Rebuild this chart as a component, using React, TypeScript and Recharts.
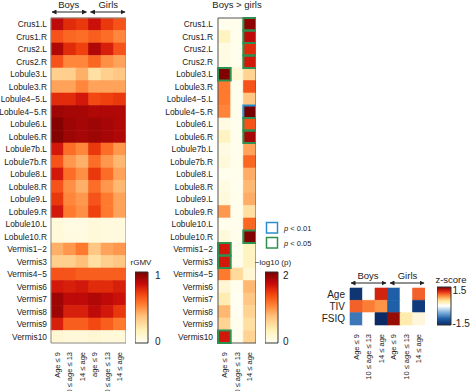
import React from "react";
import { BarChart, Bar, XAxis, YAxis, Cell, ReferenceArea } from "recharts";

const FONT = "'Liberation Sans', Arial, Helvetica, sans-serif";

const REGIONS = [
  "Crus1.L", "Crus1.R", "Crus2.L", "Crus2.R", "Lobule3.L", "Lobule3.R",
  "Lobule4−5.L", "Lobule4−5.R", "Lobule6.L", "Lobule6.R", "Lobule7b.L", "Lobule7b.R",
  "Lobule8.L", "Lobule8.R", "Lobule9.L", "Lobule9.R", "Lobule10.L", "Lobule10.R",
  "Vermis1−2", "Vermis3", "Vermis4−5", "Vermis6", "Vermis7", "Vermis8", "Vermis9", "Vermis10",
];

const GROUP_COLS = ["Age ≤ 9", "10 ≤ age ≤ 13", "14 ≤ age", "age ≤ 9", "10 ≤ age ≤ 13", "14 ≤ age"];
const DIFF_COLS = ["Age ≤ 9", "10 ≤ age ≤ 13", "14 ≤ age"];
const Z_COLS = ["Age ≤ 9", "10 ≤ age ≤ 13", "14 ≤ age", "Age ≤ 9", "10 ≤ age ≤ 13", "14 ≤ age"];
const Z_ROWS = ["Age", "TIV", "FSIQ"];

// rGMV, boys (3 age groups) then girls (3 age groups)
const RGMV = [
  [0.85, 0.75, 0.72, 0.82, 0.72, 0.65],
  [0.65, 0.6, 0.58, 0.62, 0.58, 0.52],
  [0.88, 0.75, 0.7, 0.88, 0.78, 0.65],
  [0.65, 0.52, 0.52, 0.6, 0.5, 0.45],
  [0.32, 0.32, 0.42, 0.25, 0.32, 0.35],
  [0.45, 0.45, 0.52, 0.45, 0.45, 0.45],
  [0.75, 0.75, 0.8, 0.68, 0.7, 0.72],
  [0.92, 0.9, 0.9, 0.88, 0.88, 0.88],
  [0.97, 0.92, 0.9, 0.92, 0.9, 0.88],
  [0.97, 0.92, 0.9, 0.92, 0.9, 0.88],
  [0.8, 0.58, 0.52, 0.72, 0.58, 0.48],
  [0.65, 0.48, 0.42, 0.58, 0.48, 0.4],
  [0.8, 0.58, 0.5, 0.72, 0.58, 0.45],
  [0.65, 0.5, 0.42, 0.58, 0.48, 0.4],
  [0.72, 0.52, 0.48, 0.65, 0.55, 0.45],
  [0.8, 0.55, 0.5, 0.7, 0.55, 0.45],
  [0.08, 0.05, 0.05, 0.08, 0.07, 0.07],
  [0.08, 0.06, 0.06, 0.08, 0.07, 0.07],
  [0.42, 0.48, 0.55, 0.35, 0.45, 0.48],
  [0.32, 0.32, 0.38, 0.25, 0.32, 0.35],
  [0.65, 0.65, 0.62, 0.62, 0.62, 0.62],
  [0.8, 0.78, 0.8, 0.75, 0.75, 0.78],
  [0.92, 0.85, 0.85, 0.88, 0.85, 0.82],
  [0.92, 0.78, 0.78, 0.85, 0.8, 0.72],
  [0.78, 0.62, 0.62, 0.68, 0.62, 0.55],
  [0.1, 0.08, 0.08, 0.1, 0.08, 0.08],
];

// -log10(p), boys > girls
const LOGP = [
  [0.05, 0.05, 1.9], [0.3, 0.05, 1.7], [0.1, 0.05, 1.5], [0.1, 0.05, 1.6],
  [1.95, 0.2, 0.6], [1.1, 0.05, 1.3], [1.1, 0.05, 0.7], [1.05, 0.05, 2.0],
  [0.1, 0.05, 1.3], [0.3, 0.05, 1.8], [0.1, 0.05, 0.9], [0.15, 0.05, 1.2],
  [0.05, 0.05, 0.85], [0.1, 0.05, 0.8], [0.15, 0.05, 0.85], [0.95, 0.05, 0.5],
  [0.05, 0.05, 1.2], [0.15, 0.05, 1.95], [1.6, 0.05, 0.3], [1.6, 0.05, 0.3],
  [1.1, 0.55, 0.2], [0.2, 0.05, 0.8], [0.4, 0.02, 0.7], [0.8, 0.02, 0.6],
  [0.6, 0.05, 0.5], [1.6, 0.05, 0.6],
];

// [row, column, level]
const SIG: [number, number, "p01" | "p05"][] = [
  [0, 2, "p05"], [1, 2, "p05"], [2, 2, "p05"], [3, 2, "p05"], [4, 0, "p05"],
  [7, 2, "p01"], [8, 2, "p05"], [9, 2, "p05"], [17, 2, "p05"],
  [18, 0, "p05"], [19, 0, "p05"], [25, 0, "p05"],
];

const ZSCORE = [
  [-1.4, 0, 1.2, -1.0, 0, 0.95],
  [0.95, 0.85, 0.75, -1.0, 0, -1.35],
  [-0.85, 0, -1.5, 1.4, 0.35, 0.15],
];

const HEAT: [number, string][] = [
  [0, "#fffff4"], [0.18, "#fff1b8"], [0.38, "#ffc07a"], [0.55, "#ff7a2e"],
  [0.7, "#f0400e"], [0.83, "#c80c0a"], [1, "#760000"],
];
const DIVERGE: [number, string][] = [
  [-1.5, "#0b2a66"], [-1.0, "#1f5fa8"], [-0.5, "#80b2dc"], [0, "#ffffff"],
  [0.4, "#ffe9a0"], [0.8, "#ff8a3a"], [1.15, "#e02a12"], [1.5, "#7a0000"],
];
const SIG_COLOR = { p01: "#2a8fd0", p05: "#2e9050" };

if (typeof document !== "undefined") document.body.style.margin = "0";

function hex(c: string) {
  return [1, 3, 5].map((i) => parseInt(c.slice(i, i + 2), 16));
}
function colorAt(stops: [number, string][], v: number) {
  if (v <= stops[0][0]) return stops[0][1];
  for (let i = 1; i < stops.length; i++) {
    if (v <= stops[i][0]) {
      const [a, ca] = stops[i - 1];
      const [b, cb] = stops[i];
      const t = (v - a) / (b - a);
      const x = hex(ca), y = hex(cb);
      return `rgb(${x.map((q, k) => Math.round(q + (y[k] - q) * t)).join(",")})`;
    }
  }
  return stops[stops.length - 1][1];
}

function RotatedTick(props: any) {
  const { x, y, index, labels, fontSize } = props;
  const yy = y + 1;
  return (
    <text x={x} y={yy} transform={`rotate(-90 ${x} ${yy})`} textAnchor="end" dominantBaseline="central"
      fontSize={fontSize} fill="#222" fontFamily={FONT}>
      {labels[index]}
    </text>
  );
}

function Heatmap(props: any) {
  const { rows, cols, values, colorOf, width, height, marginTop, yWidth, xHeight, rowFont, colFont, border, marks, labelGap = 3 } = props;
  const data = cols.map((_: string, j: number) => {
    const d: Record<string, any> = { key: `c${j}` };
    rows.forEach((_r: string, i: number) => (d[`r${i}`] = 1));
    return d;
  });
  const ticks = rows.map((_: string, i: number) => i + 0.5);
  return (
    <BarChart width={width} height={height} data={data} barCategoryGap={0} barGap={0}
      margin={{ top: marginTop, right: 0, bottom: 0, left: 0 }}>
      <XAxis dataKey="key" height={xHeight} interval={0} axisLine={false} tickLine={false}
        tick={(p: any) => <RotatedTick {...p} labels={cols} fontSize={colFont} />} />
      <YAxis type="number" domain={[0, rows.length]} reversed ticks={ticks} interval={0} width={yWidth}
        axisLine={false} tickLine={false} tickSize={2} tickMargin={labelGap}
        tickFormatter={(v: number) => rows[Math.floor(v)]}
        tick={{ fontSize: rowFont, fill: "#222", fontFamily: FONT }} />
      {rows.map((_r: string, i: number) => (
        <Bar key={i} dataKey={`r${i}`} stackId="h" isAnimationActive={false}>
          {cols.map((_c: string, j: number) => {
            const f = colorOf(values[i][j]);
            return <Cell key={j} fill={f} stroke={f} strokeWidth={0.6} />;
          })}
        </Bar>
      ))}
      {border && (
        <ReferenceArea y1={0} y2={rows.length} fill="none" stroke={border} strokeWidth={1} zIndex={700} ifOverflow="visible" />
      )}
      {(marks || []).map(([r, c, lvl]: [number, number, "p01" | "p05"], k: number) => (
        <ReferenceArea key={k} x1={`c${c}`} x2={`c${c}`} y1={r} y2={r + 1} fill="none"
          stroke={SIG_COLOR[lvl]} strokeWidth={2} zIndex={800} ifOverflow="visible" />
      ))}
    </BarChart>
  );
}

function BarTick(props: any) {
  const { x, y, payload, hi, gap, fontSize } = props;
  const dy = payload.value === hi ? 3.5 : -2;
  return (
    <text x={x - 4 + gap} y={y + dy} dominantBaseline="central" fontSize={fontSize} fill="#222" fontFamily={FONT}>
      {payload.value}
    </text>
  );
}

function ColorBar(props: any) {
  const { id, left, top, bottom, barWidth, axisWidth, domain, ticks, stops, fontSize, gap } = props;
  const lo = domain[0], hi = domain[1];
  return (
    <div style={{ position: "absolute", left, top: 0 }}>
      <BarChart width={barWidth + axisWidth} height={391} data={[{ k: "c", v: domain }]} barCategoryGap={0}
        margin={{ top, right: 0, bottom: 391 - bottom, left: 0 }}>
        <defs>
          <linearGradient id={id} x1="0" y1="1" x2="0" y2="0">
            {stops.map(([o, c]: [number, string], i: number) => (
              <stop key={i} offset={(o - lo) / (hi - lo)} stopColor={c} />
            ))}
          </linearGradient>
        </defs>
        <XAxis dataKey="k" hide />
        <YAxis orientation="right" type="number" domain={domain} ticks={ticks} width={axisWidth}
          axisLine={false} tickLine={false} tickSize={0} tickMargin={4}
          tick={(p: any) => <BarTick {...p} hi={hi} gap={gap} fontSize={fontSize} />} />
        <Bar dataKey="v" fill={`url(#${id})`} stroke="#333" strokeWidth={1} isAnimationActive={false} />
      </BarChart>
    </div>
  );
}

function Header({ x1, x2, mid, y, ty }: { x1: number; x2: number; mid: number; y: number; ty: number }) {
  return (
    <g fontFamily={FONT} fontSize={9.5} fill="#222">
      <text x={(x1 + mid) / 2 - 1} y={ty} textAnchor="middle">Boys</text>
      <text x={(mid + x2) / 2 + 1} y={ty} textAnchor="middle">Girls</text>
      <line x1={x1 + 1} y1={y} x2={mid - 2} y2={y} stroke="#222" strokeWidth={1} markerStart="url(#ah)" markerEnd="url(#ah)" />
      <line x1={mid + 2} y1={y} x2={x2 - 1} y2={y} stroke="#222" strokeWidth={1} markerStart="url(#ah)" markerEnd="url(#ah)" />
    </g>
  );
}

export default function App() {
  return (
    <div style={{ position: "relative", width: 474, height: 391, background: "#fff", overflow: "hidden", fontFamily: FONT }}>
      <div style={{ position: "absolute", left: 0, top: 0 }}>
        <Heatmap rows={REGIONS} cols={GROUP_COLS} values={RGMV} colorOf={(v: number) => colorAt(HEAT, v)}
          width={126} height={391} marginTop={18} yWidth={51} xHeight={48} rowFont={8.4} colFont={7.5}
          border="#8a8a8a" labelGap={2} />
      </div>
      <div style={{ position: "absolute", left: 158, top: 0 }}>
        <Heatmap rows={REGIONS} cols={DIFF_COLS} values={LOGP} colorOf={(v: number) => colorAt(HEAT, v / 2)}
          width={98} height={391} marginTop={18} yWidth={60} xHeight={48} rowFont={8.4} colFont={7.5} border="#555" marks={SIG} />
      </div>
      <div style={{ position: "absolute", left: 300, top: 270 }}>
        <Heatmap rows={Z_ROWS} cols={Z_COLS} values={ZSCORE} colorOf={(v: number) => colorAt(DIVERGE, v)}
          width={125} height={121} marginTop={18} yWidth={50} xHeight={66} rowFont={10} colFont={7.5} />
      </div>

      <ColorBar id="gHeat1" left={135} top={272} bottom={343} barWidth={13} axisWidth={24} domain={[0, 1]} ticks={[0, 1]}
        stops={HEAT} fontSize={10} gap={7} />
      <ColorBar id="gHeat2" left={265} top={272} bottom={343} barWidth={13} axisWidth={24} domain={[0, 2]} ticks={[0, 2]}
        stops={HEAT.map(([o, c]) => [o * 2, c])} fontSize={10} gap={5} />
      <ColorBar id="gZ" left={437} top={287} bottom={325} barWidth={14} axisWidth={37} domain={[-1.5, 1.5]} ticks={[-1.5, 1.5]}
        stops={DIVERGE} fontSize={10} gap={1.5} />

      <svg width={474} height={391} style={{ position: "absolute", left: 0, top: 0, pointerEvents: "none" }}>
        <defs>
          <marker id="ah" viewBox="0 0 10 10" refX="9" refY="5" markerWidth="5" markerHeight="5" orient="auto-start-reverse">
            <path d="M0,0 L10,5 L0,10 z" fill="#222" />
          </marker>
        </defs>
        <Header x1={51} x2={126} mid={88.5} y={12} ty={8} />
        <Header x1={350} x2={425} mid={388} y={283} ty={279} />
        <g fontFamily={FONT} fill="#222">
          <text x={237} y={8} fontSize={9.5} textAnchor="middle">Boys &gt; girls</text>
          <text x={141} y={265} fontSize={8} textAnchor="middle">rGMV</text>
          <text x={273} y={265} fontSize={8} textAnchor="middle">−log10 (p)</text>
          <text x={451} y={283} fontSize={9.5} textAnchor="middle">z-score</text>
          <rect x={266.5} y={222.5} width={11} height={10.5} fill="none" stroke={SIG_COLOR.p01} strokeWidth={1.5} />
          <rect x={266.5} y={237.5} width={11} height={10.5} fill="none" stroke={SIG_COLOR.p05} strokeWidth={1.5} />
          <text x={284} y={231} fontSize={7.5}><tspan fontStyle="italic">p</tspan> &lt; 0.01</text>
          <text x={284} y={246} fontSize={7.5}><tspan fontStyle="italic">p</tspan> &lt; 0.05</text>
        </g>
      </svg>
    </div>
  );
}
